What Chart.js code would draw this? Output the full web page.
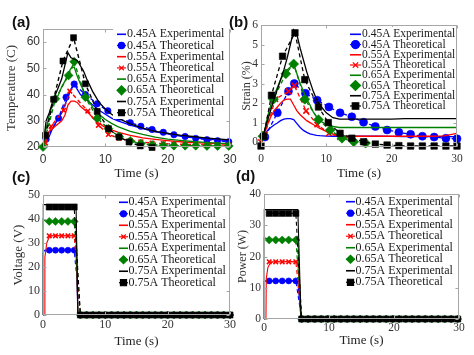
<!DOCTYPE html>
<html><head><meta charset="utf-8">
<script src="https://cdn.jsdelivr.net/npm/chart.js@4.4.0/dist/chart.umd.min.js"></script>
<style>
html,body{margin:0;padding:0;background:#fff;}
#wrap{position:relative;width:474px;height:355px;overflow:hidden;background:#fff;}
canvas{position:absolute;left:0;top:0;}
.lab{position:absolute;font:bold 15px "Liberation Sans",Arial,sans-serif;color:#111;line-height:15px;}
</style></head><body>
<div id="wrap">
<canvas id="ca" width="474" height="355"></canvas>
<canvas id="cb" width="474" height="355"></canvas>
<canvas id="cc" width="474" height="355"></canvas>
<canvas id="cd" width="474" height="355"></canvas>
<div class="lab" style="left:12px;top:14px">(a)</div>
<div class="lab" style="left:229px;top:14px">(b)</div>
<div class="lab" style="left:12px;top:169px">(c)</div>
<div class="lab" style="left:236px;top:168px">(d)</div>
</div>
<script>
// ---------- labels & ticks ----------
const seriesLabels = ['0.45A Experimental','0.45A Theoretical','0.55A Experimental','0.55A Theoretical',
                      '0.65A Experimental','0.65A Theoretical','0.75A Experimental','0.75A Theoretical'];
const xTicks = [0,10,20,30];
const yTicksA = [20,30,40,50,60];
const yTicksB = [0,1,2,3,4,5,6];
const yTicksC = [0,10,20,30,40,50];
const yTicksD = [0,10,20,30,40];

// ---------- (a) Temperature ----------
const tExpA = [0,0.5,1,1.5,2,2.5,3,3.5,4,4.5,5,5.5,6,6.5,7,7.5,8,9,10,11,12,14,16,18,20,22,24,26,28,30];
const expA45 = [20,22,24,27,29,31,33,36,39,42,44,42,40,39,38,37,36,34,32.5,31,30,28.3,27,25.8,25,24.2,23.6,23.1,22.7,22.4];
const expA55 = [20,24,26,27,28,29,30,32,36,37.5,37.5,37,35.5,34.5,33.5,32.5,31,29,27.5,26.5,25.7,24.4,23.5,22.9,22.4,22,21.7,21.5,21.3,21.2];
const expA65 = [20,27,32,36,38,40,43,45,48,50,50.5,47,44,41.5,39,37,35,32.5,30.5,29,27.8,26,24.8,23.8,23,22.5,22.1,21.8,21.5,21.3];
const expA75 = [20,30,33,37,40,43,46,51,56,54,53.5,53,51,49,46,43.5,41,37,34.5,32.5,31,28.8,27.2,26,25.2,24.5,24,23.5,23.1,22.7];
const tThA45 = [0.5,2.5,3.7,5,6.8,8.7,10.4,12.2,14,15.7,17.5,19.3,21,22.8,24.5,26.3,28,29.8];
const thA45  = [23,31,39,44,40,36.5,33.8,31.3,29.3,27.9,26.7,25.6,24.7,24,23.3,22.8,22.4,22];
const tThA55 = [0.4,1.3,3.3,4.3,7.2,8.9,10.5,12.2,14,15.7,17.5,19.3,21,22.8,24.5,26.3,28,29.8];
const thA55  = [21.5,27.9,34,41.3,33.7,28.3,24.8,23.3,22.4,21.9,21.5,21.3,21.1,21,20.9,20.8,20.8,20.7];
const tThA65 = [0,2,4.1,5,6.8,8.7,10.5,12.2,14,15.7,17.5,19.3,21,22.8,24.5,26.3,28,29.8];
const thA65  = [20,38.4,47.3,52.5,39,31,27,24,22.3,21.3,20.8,20.6,20.5,20.5,20.5,20.4,20.4,20.4];
const tThA75 = [0.4,1.7,3.2,4.9,6.8,8.7,10.5,12.2,13.8,15.6,17.5];
const thA75  = [24.4,38.2,52.8,61.7,44.1,33.6,27,23.8,21.9,20.4,19.8];

// ---------- (b) Strain ----------
const tExpB = [0,0.5,1,1.5,2,2.5,3,3.5,4,4.5,5,5.5,6,6.5,7,7.5,8,8.5,9,10,11,12,13,14,16,18,20,22,24,26,28,30];
const expB45 = [0,0.35,0.6,0.75,0.88,0.98,1.1,1.18,1.2,1.2,1.15,0.95,0.75,0.6,0.5,0.42,0.38,0.35,0.33,0.31,0.3,0.3,0.3,0.3,0.3,0.3,0.29,0.28,0.28,0.28,0.28,0.28];
const expB55 = [0,0.4,0.9,1.3,1.6,1.8,2.0,2.15,2.2,2.2,1.9,1.6,1.4,1.25,1.1,1.0,0.9,0.8,0.7,0.55,0.42,0.32,0.3,0.3,0.3,0.3,0.3,0.3,0.3,0.3,0.32,0.45];
const expB65 = [0,0.5,1.3,1.9,2.4,2.8,3.2,3.5,3.7,3.85,4.0,3.5,3.0,2.6,2.2,1.9,1.55,1.3,1.1,0.9,0.8,0.75,0.75,0.75,0.75,0.75,0.75,0.75,0.75,0.75,0.75,0.75];
const expB75 = [0,0.55,1.1,1.65,2.2,2.7,3.2,3.7,4.3,5.0,5.75,5.5,4.8,4.2,3.6,3.1,2.6,2.2,1.9,1.5,1.25,1.18,1.18,1.18,1.18,1.18,1.18,1.2,1.2,1.2,1.2,1.2];
const tThB45 = [0.6,2.5,4.2,5.1,6.8,8.6,10.4,12.1,13.9,15.7,17.5,19.3,21.1,22.9,24.7,26.5,28.3,30];
const thB45  = [0.26,1.5,2.6,3.0,2.5,2.15,1.8,1.5,1.3,1.02,0.8,0.62,0.5,0.4,0.3,0.26,0.2,0.17];
const tThB55 = [0,0.6,2.2,4.2,5.1,6.9,8.6,10.4,12.1,13.9];
const thB55  = [0,0.4,2.2,2.6,2.9,1.6,0.9,0.45,0.25,0.2];
const tThB65 = [0.3,1.9,3.8,5,6.7,8.8,10.6,12.4,14.2,16];
const thB65  = [0.3,2.2,3.5,4.0,2.2,1.15,0.62,0.2,0.02,-0.05];
const tThB75 = [0,0.4,1.6,3.3,5.2,6.7,8.8,10.3,12.1,13.9,15.7,17.5,19.3,21.1,22.9,24.7,26.5,28.3,30];
const thB75  = [-0.2,0.3,2.4,4.4,5.6,3.2,1.8,1.0,0.45,0.2,0.02,-0.1,-0.15,-0.18,-0.2,-0.2,-0.2,-0.2,-0.2];

// ---------- (c) Voltage ----------
const tExpC = [0,0.05,0.25,0.3,0.6,1,1.5,5.3,5.6,30];
const expC45 = [0,26,27,27,27,27,27,27,0,0];
const expC55 = [0,0,0,24,30,32.5,33,33,0,0];
const expC65 = [0,40,39.5,39.5,39,39,39,39,0,0];
const expC75 = [0,46,46,46,46,46,46,46,0,0];
const tThC = [1,2,3,4,5,6,7,8,9,10,11,12,13,14,15,16,17,18,19,20,21,22,23,24,25,26,27,28,29,30];
const thC45 = [27,27,27,27,27,0,0,0,0,0,0,0,0,0,0,0,0,0,0,0,0,0,0,0,0,0,0,0,0,0];
const thC55 = [33,33,33,33,33,0,0,0,0,0,0,0,0,0,0,0,0,0,0,0,0,0,0,0,0,0,0,0,0,0];
const thC65 = [39,39,39,39,39,0,0,0,0,0,0,0,0,0,0,0,0,0,0,0,0,0,0,0,0,0,0,0,0,0];
const thC75 = [45,45,45,45,45,0,0,0,0,0,0,0,0,0,0,0,0,0,0,0,0,0,0,0,0,0,0,0,0,0];

// ---------- (d) Power ----------
const tExpD = [0,0.05,0.3,0.35,0.6,1,1.5,5.2,5.7,30];
const expD45 = [0,12,12.2,12.2,12.2,12.2,12.2,12.2,0,0];
const expD55 = [0,0,0,13,16.5,18,18.3,18.3,0,0];
const expD65 = [0,26,25.8,25.8,25.5,25.5,25.5,25.5,0,0];
const expD75 = [0,35,35,35,35,35,35,35,0,0];
const tThD = [0.8,1.8,2.8,3.8,4.9,5.8,6.8,7.8,8.8,9.8,10.8,11.8,12.8,13.8,14.8,15.8,16.8,17.8,18.8,19.8,20.8,21.8,22.8,23.8,24.8,25.8,26.8,27.8,28.8,29.8];
const thD45 = [12.2,12.2,12.2,12.2,12.2,0,0,0,0,0,0,0,0,0,0,0,0,0,0,0,0,0,0,0,0,0,0,0,0,0];
const thD55 = [18.3,18.3,18.3,18.3,18.3,0,0,0,0,0,0,0,0,0,0,0,0,0,0,0,0,0,0,0,0,0,0,0,0,0];
const thD65 = [25.3,25.3,25.3,25.3,25.3,0,0,0,0,0,0,0,0,0,0,0,0,0,0,0,0,0,0,0,0,0,0,0,0,0];
const thD75 = [33.8,33.8,33.8,33.8,33.8,0,0,0,0,0,0,0,0,0,0,0,0,0,0,0,0,0,0,0,0,0,0,0,0,0];

// ---------- styling ----------
const COLORS = ['#0000ff','#ff0000','#008000','#000000'];
const STYLES = ['circle','crossRot','rectRot','rect'];
const SERIF = '"Liberation Serif","Times New Roman",serif';
const SANS = '"Liberation Sans",Arial,sans-serif';
const FRAME = '#a6a6a6';

function zip(t, v){ return t.map((x,i)=>({x:x, y:v[i]})); }

const framePlugin = {
  id:'boxLegend',
  afterDatasetsDraw(chart, args, opts){
    const ctx = chart.ctx, a = chart.chartArea, sx = chart.scales.x, sy = chart.scales.y;
    ctx.save();
    ctx.strokeStyle = FRAME; ctx.lineWidth = 1; ctx.setLineDash([]);
    const L = Math.round(a.left)+0.5, T = Math.round(a.top)+0.5, R = Math.round(a.right)-0.5, B = Math.round(a.bottom)-0.5;
    ctx.strokeRect(L, T, R-L, B-T);
    ctx.beginPath();
    sx.ticks.forEach(tk=>{ const p = Math.round(sx.getPixelForValue(tk.value))+0.5;
      ctx.moveTo(p,B); ctx.lineTo(p,B-3); ctx.moveTo(p,T); ctx.lineTo(p,T+3); });
    sy.ticks.forEach(tk=>{ const p = Math.round(sy.getPixelForValue(tk.value))+0.5;
      ctx.moveTo(L,p); ctx.lineTo(L+3,p); ctx.moveTo(R,p); ctx.lineTo(R-3,p); });
    ctx.stroke();
    // legend
    const g = opts.legend;
    ctx.fillStyle = '#fff';
    ctx.fillRect(g.bg[0], g.bg[1], g.bg[2]-g.bg[0], g.bg[3]-g.bg[1]);
    chart.data.datasets.forEach((ds,i)=>{
      const y = g.y + i*g.dy;
      ctx.strokeStyle = ds.borderColor; ctx.setLineDash([]);
      ctx.lineWidth = ds.isTheory ? 1.2 : 1.6;
      ctx.beginPath(); ctx.moveTo(g.x, y); ctx.lineTo(g.x+g.len, y); ctx.stroke();
      if (ds.isTheory){
        ctx.fillStyle = ds.borderColor;
        Chart.helpers.drawPoint(ctx, {pointStyle: ds.pointStyle, radius: ds.pointRadius, rotation:0,
          borderWidth: ds.pointBorderWidth}, g.x+g.len/2, y);
      }
      ctx.fillStyle = '#1a1a1a';
      ctx.font = g.size + 'px ' + SERIF;
      ctx.textBaseline = 'middle'; ctx.textAlign = 'left';
      ctx.fillText(ds.label, g.tx, y);
    });
    ctx.restore();
  }
};

function build(id, P){
  const datasets = [];
  for (let k=0;k<4;k++){
    datasets.push({
      label: seriesLabels[2*k], data: zip(P.exp[k][0], P.exp[k][1]),
      borderColor: COLORS[k], backgroundColor: COLORS[k], borderWidth: P.expWidth,
      pointRadius: 0, tension: 0, fill:false, clip:false, isTheory:false, order: 7-2*k
    });
    datasets.push({
      label: seriesLabels[2*k+1], data: zip(P.th[k][0], P.th[k][1]),
      borderColor: COLORS[k], backgroundColor: COLORS[k], borderWidth: P.thWidth,
      borderDash:[4,3], pointStyle: STYLES[k], pointRadius: P.radii[k], pointHoverRadius: P.radii[k],
      pointBackgroundColor: COLORS[k], pointBorderColor: COLORS[k],
      pointBorderWidth: k===1 ? 1.6 : 0.6, tension: 0, fill:false, clip:false, isTheory:true, order: 6-2*k
    });
  }
  const [L,T,R,B] = P.area;
  new Chart(document.getElementById(id), {
    type:'line',
    data:{datasets},
    options:{
      responsive:false, animation:false, devicePixelRatio:1, events:[],
      layout:{padding:{left:L-P.yW, top:T, right:474-R, bottom:355-B-P.xH}},
      plugins:{legend:{display:false}, tooltip:{enabled:false}, boxLegend:{legend:P.legend}},
      scales:{
        x:{type:'linear', min:0, max:30,
           afterBuildTicks: s=>{ s.ticks = xTicks.map(v=>({value:v})); },
           afterFit: s=>{ s.height = P.xH; },
           grid:{display:false, drawTicks:false}, border:{display:false},
           ticks:{padding:P.xTickPad, font:P.tickFont, color:'#333', maxRotation:0, autoSkip:false, callback:v=>String(v)},
           title:{display:true, text:'Time (s)', font:{family:SERIF, size:13}, color:'#222', padding:{top:0,bottom:P.xTitlePad}}},
        y:{type:'linear', min:P.yMin, max:P.yMax,
           afterBuildTicks: s=>{ s.ticks = P.yTicks.map(v=>({value:v})); },
           afterFit: s=>{ s.width = P.yW; },
           grid:{display:false, drawTicks:false}, border:{display:false},
           ticks:{padding:P.yTickPad, font:P.tickFont, color:'#333', autoSkip:false, callback:v=>String(v)},
           title:{display:true, text:P.yTitle, font:{family:SERIF, size:P.yTitleSize}, color:'#333', padding:{top:P.yTitlePad,bottom:0}}}
      }
    },
    plugins:[framePlugin]
  });
}

build('ca', {
  area:[43,29,230,147], yW:43, xH:36, yMin:20, yMax:65, yTicks:yTicksA,
  tickFont:{family:SANS, size:12}, yTickPad:3, xTickPad:5,
  yTitle:'Temperature (C)', yTitleSize:13, yTitlePad:4.2, xTitlePad:1.2,
  exp:[[tExpA,expA45],[tExpA,expA55],[tExpA,expA65],[tExpA,expA75]],
  th:[[tThA45,thA45],[tThA55,thA55],[tThA65,thA65],[tThA75,thA75]],
  radii:[3.2,3.3,4.5,4.2], expWidth:1.3, thWidth:1.4,
  legend:{x:117, len:9, tx:127, y:34.3, dy:11.2, size:12, bg:[113,28,229,119]}
});
build('cb', {
  area:[261,25,457,147], yW:24, xH:36, yMin:-0.25, yMax:6, yTicks:yTicksB,
  tickFont:{family:SERIF, size:11.5}, yTickPad:3, xTickPad:5.1,
  yTitle:'Strain (%)', yTitleSize:12, yTitlePad:2.8, xTitlePad:1.2,
  exp:[[tExpB,expB45],[tExpB,expB55],[tExpB,expB65],[tExpB,expB75]],
  th:[[tThB45,thB45],[tThB55,thB55],[tThB65,thB65],[tThB75,thB75]],
  radii:[4,3.8,5,4.6], expWidth:1.3, thWidth:1.3,
  legend:{x:350, len:11, tx:362, y:34.3, dy:10.24, size:11.5, bg:[346,27,456,112]}
});
build('cc', {
  area:[43,195,230,315], yW:43, xH:36, yMin:0, yMax:50, yTicks:yTicksC,
  tickFont:{family:SERIF, size:12}, yTickPad:3, xTickPad:2.8,
  yTitle:'Voltage (V)', yTitleSize:13, yTitlePad:11.2, xTitlePad:1.2,
  exp:[[tExpC,expC45],[tExpC,expC55],[tExpC,expC65],[tExpC,expC75]],
  th:[[tThC,thC45],[tThC,thC55],[tThC,thC65],[tThC,thC75]],
  radii:[3,3.2,4,4.3], expWidth:1.1, thWidth:1.1,
  legend:{x:119, len:9, tx:128.5, y:202.3, dy:11.49, size:12, bg:[116,196,229,289]}
});
build('cd', {
  area:[264,194,459,319], yW:32, xH:32, yMin:0, yMax:40, yTicks:yTicksD,
  tickFont:{family:SERIF, size:11.5}, yTickPad:3, xTickPad:2.1,
  yTitle:'Power (W)', yTitleSize:12, yTitlePad:3.8, xTitlePad:2.2,
  exp:[[tExpD,expD45],[tExpD,expD55],[tExpD,expD65],[tExpD,expD75]],
  th:[[tThD,thD45],[tThD,thD55],[tThD,thD65],[tThD,thD75]],
  radii:[3,3.2,4,4.3], expWidth:1.1, thWidth:1.1,
  legend:{x:346, len:9, tx:355.5, y:201.7, dy:11.51, size:12, bg:[343,195,458,288]}
});
</script>
</body></html>
